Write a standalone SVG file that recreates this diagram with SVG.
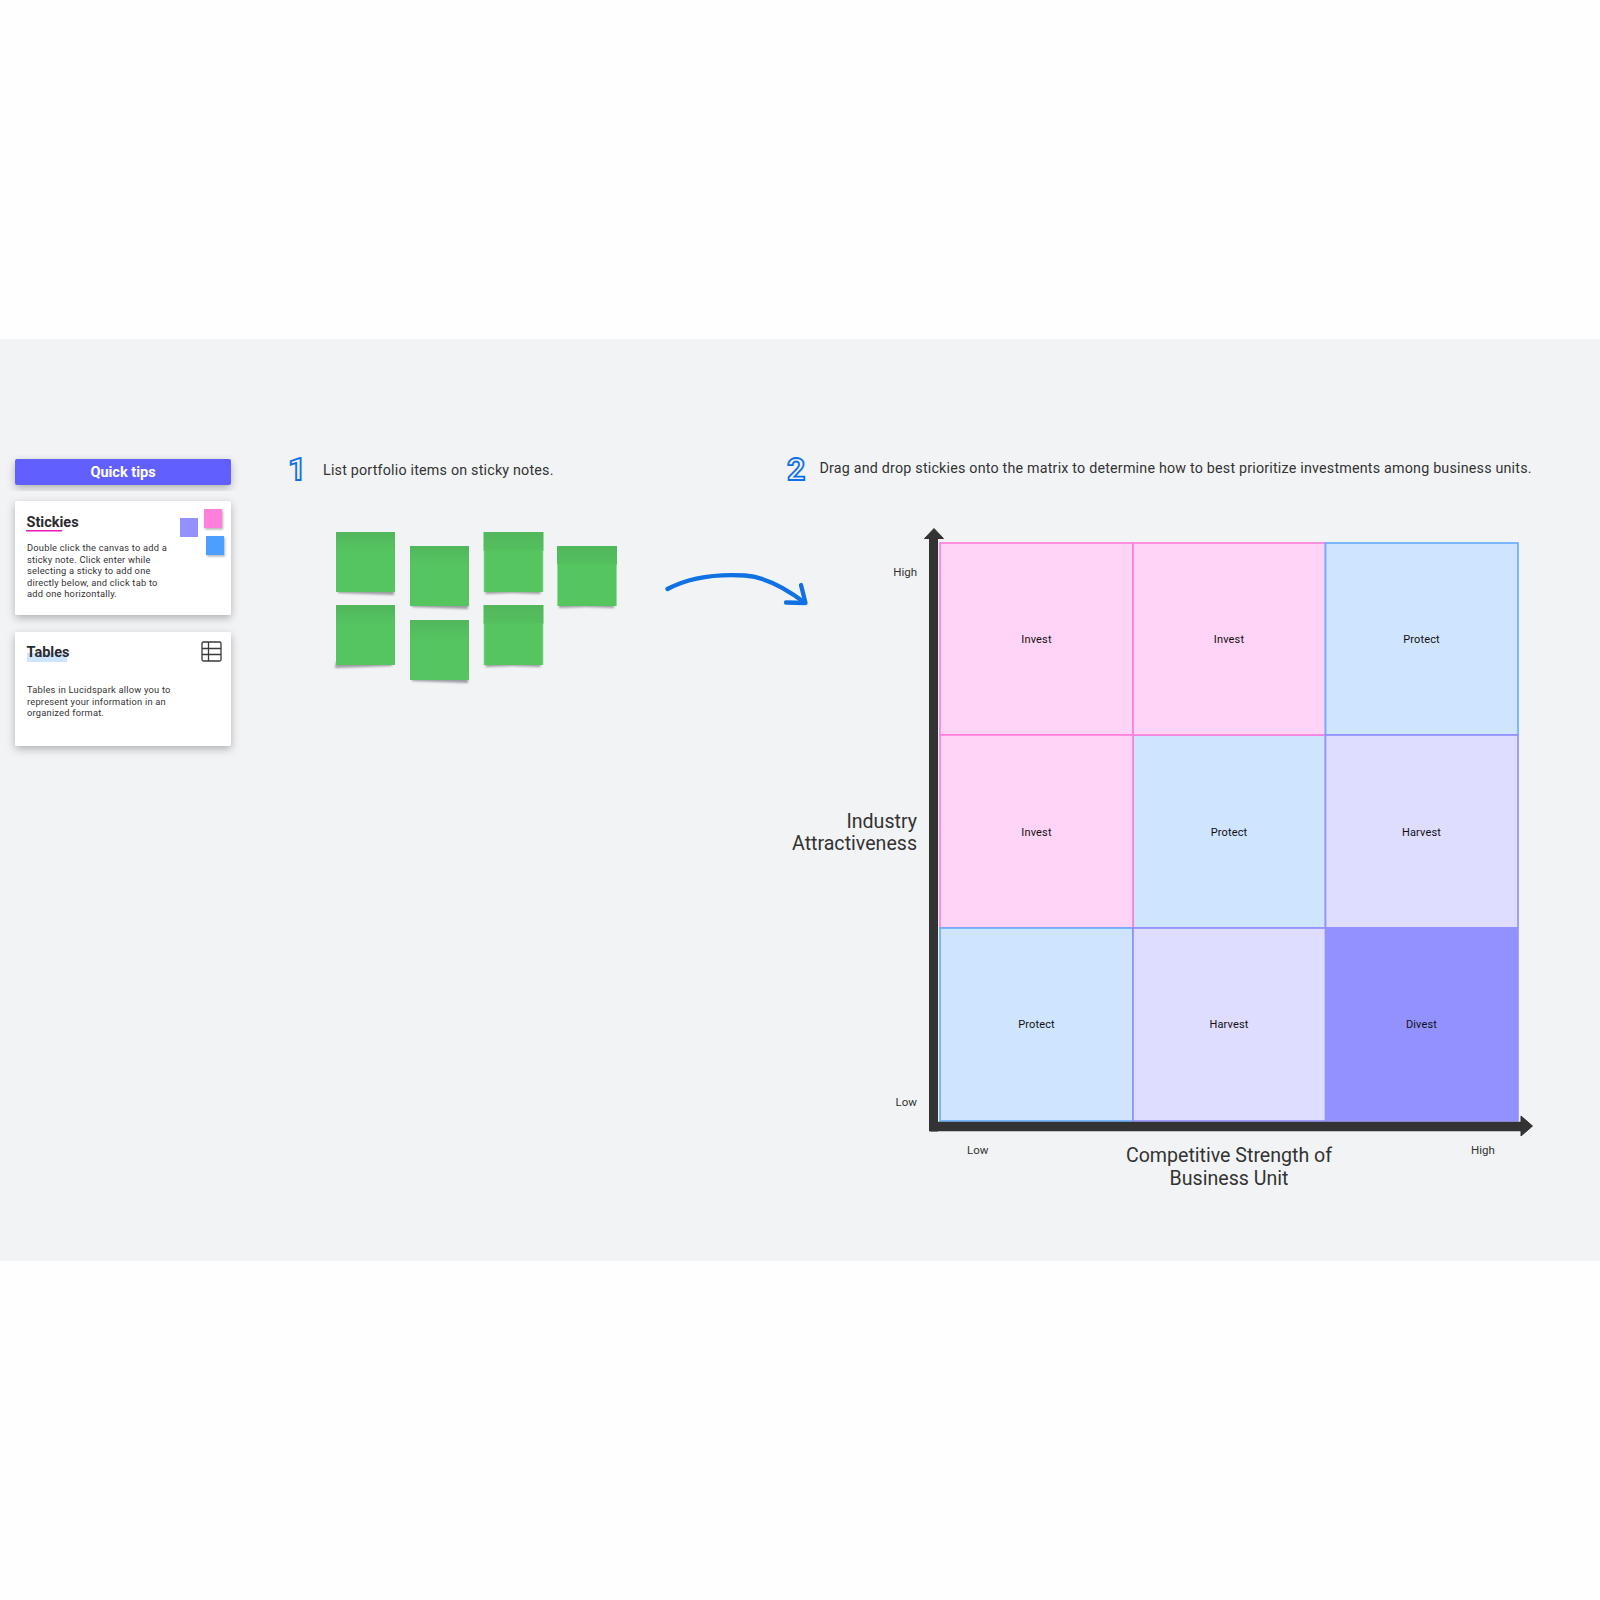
<svg xmlns="http://www.w3.org/2000/svg" width="1600" height="1600" viewBox="0 0 1600 1600">
<style>
text{font-family:Roboto,"Liberation Sans",sans-serif;fill:#2b2b2f}
.cell{font-size:11px;text-anchor:middle;fill:#111;letter-spacing:.15px}
.ax{font-size:11.5px;fill:#333}
.big{font-size:19.6px;text-anchor:middle;fill:#333}
.big2{font-size:19.6px;text-anchor:end;fill:#333}
.step{font-size:14.3px;fill:#333;letter-spacing:.195px}
.num{font-size:32px;font-weight:700;fill:#f2f3f5;stroke:#1071e5;stroke-width:1.8px}
.body{font-size:9.3px;fill:#333;letter-spacing:.22px}
.title{font-size:14.5px;font-weight:700}
.card{fill:#fff;filter:url(#sh)}
.pk{fill:#ffd4f6;stroke:#ff80dc;stroke-width:1.7}
.bl{fill:#cfe4ff;stroke:#69aefc;stroke-width:1.7}
.pu{fill:#dedcff;stroke:#9391ff;stroke-width:1.7}
.blpu{fill:#cfe4ff;stroke:#9391ff;stroke-width:1.7}
.shd{fill:#55555f;opacity:.55;filter:url(#blur)}
</style>
<defs>
<filter id="sh" x="-15%" y="-15%" width="130%" height="135%"><feDropShadow dx="0" dy="3" stdDeviation="4" flood-color="#000" flood-opacity=".28"/></filter>
<filter id="ss" x="-15%" y="-15%" width="130%" height="130%"><feDropShadow dx="1" dy="1.500" stdDeviation="1" flood-color="#000" flood-opacity=".3"/></filter>
<filter id="blur" x="-15%" y="-60%" width="130%" height="220%"><feGaussianBlur stdDeviation="1"/></filter>
<linearGradient id="band" x1="0" y1="0" x2="0" y2="1"><stop offset="0" stop-color="#51b75c"/><stop offset="1" stop-color="#55c560"/></linearGradient>
<linearGradient id="band2" x1="0" y1="0" x2="0" y2="1"><stop offset="0" stop-color="#51b75c"/><stop offset="1" stop-color="#54c05e"/></linearGradient>
<g id="face"><rect width="59" height="60" fill="#55c560"/><rect width="59" height="20" fill="url(#band)"/></g>
<g id="face2"><rect y="17" width="60" height="43" fill="#a9dfae"/><rect x=".8" y="17" width="58.400" height="43" fill="#55c560"/><rect width="60" height="18.500" fill="url(#band2)"/></g>
<g id="sticky-r"><path class="shd" d="M2 57H58L58 63L2 61Z"/><use href="#face"/></g>
<g id="sticky-l"><path class="shd" d="M0 57H56L56 61L-1 63Z"/><use href="#face"/></g>
<g id="sticky-m"><path class="shd" d="M2 57H57L57 62L29 61L2 62Z"/><use href="#face2"/></g>
</defs>
<rect width="1600" height="1600" fill="#fefefe"/>
<rect y="339" width="1600" height="922" fill="#f2f3f5"/>

<g id="quick-tips"><rect x="15" y="459" width="216" height="26" rx="2" fill="#625fff" filter="url(#sh)"/><text x="123" y="477" text-anchor="middle" style="font-size:14.5px;font-weight:700;fill:#fff">Quick tips</text></g>

<g id="card-stickies">
<rect class="card" x="15" y="501" width="216" height="114" rx="2"/>
<text class="title" x="26.500" y="526.500">Stickies</text>
<rect x="26" y="530" width="36" height="1.500" fill="#e81fb5"/>
<text class="body"><tspan x="27" y="551">Double click the canvas to add a</tspan><tspan x="27" y="562.500">sticky note. Click enter while</tspan><tspan x="27" y="574">selecting a sticky to add one</tspan><tspan x="27" y="585.500">directly below, and click tab to</tspan><tspan x="27" y="597">add one horizontally.</tspan></text>
<rect x="180" y="518" width="18" height="19" fill="#9391ff"/>
<rect x="204" y="509" width="18" height="19" fill="#ff80dc" filter="url(#ss)"/>
<rect x="206" y="536" width="18" height="19" fill="#4d9fff" filter="url(#ss)"/>
</g>

<g id="card-tables">
<rect class="card" x="15" y="632" width="216" height="114" rx="2"/>
<rect x="27" y="653" width="40" height="9" fill="#cfe4ff"/>
<text class="title" x="26.500" y="657">Tables</text>
<text class="body"><tspan x="27" y="693">Tables in Lucidspark allow you to</tspan><tspan x="27" y="705">represent your information in an</tspan><tspan x="27" y="716">organized format.</tspan></text>
<g fill="none" stroke="#3a3a3d" stroke-width="1.300"><rect x="202" y="642" width="19" height="19" rx="1.500"/><path d="M202 648.500H221M202 654.500H221M208.500 642V661"/></g>
</g>

<g id="step-1"><text class="num" x="288" y="480">1</text><text class="step" x="323" y="475">List portfolio items on sticky notes.</text></g>
<g id="step-2"><text class="num" x="787" y="480">2</text><text class="step" x="819.500" y="473">Drag and drop stickies onto the matrix to determine how to best prioritize investments among business units.</text></g>

<g id="sticky-1"><use href="#sticky-r" x="336" y="532"/></g>
<g id="sticky-2"><use href="#sticky-r" x="410" y="546"/></g>
<g id="sticky-3"><use href="#sticky-m" x="483.500" y="532"/></g>
<g id="sticky-4"><use href="#sticky-m" x="557" y="546"/></g>
<g id="sticky-5"><use href="#sticky-l" x="336" y="605"/></g>
<g id="sticky-6"><use href="#sticky-r" x="410" y="620"/></g>
<g id="sticky-7"><use href="#sticky-m" x="483.500" y="605"/></g>

<g id="matrix">
<g id="cell-5"><rect class="blpu" x="1133" y="735" width="192.500" height="193"/><text class="cell" x="1229" y="836">Protect</text></g>
<g id="cell-1"><rect class="pk" x="940" y="543" width="193" height="192"/><text class="cell" x="1036.500" y="643">Invest</text></g>
<g id="cell-2"><rect class="pk" x="1133" y="543" width="192.500" height="192"/><text class="cell" x="1229" y="643">Invest</text></g>
<g id="cell-4"><rect class="pk" x="940" y="735" width="193" height="193"/><text class="cell" x="1036.500" y="836">Invest</text></g>
<g id="cell-3"><rect class="bl" x="1325.500" y="543" width="192.500" height="192"/><text class="cell" x="1421.500" y="643">Protect</text></g>
<g id="cell-6"><rect class="pu" x="1325.500" y="735" width="192.500" height="193"/><text class="cell" x="1421.500" y="836">Harvest</text></g>
<g id="cell-7"><rect class="bl" x="940" y="928" width="193" height="193"/><text class="cell" x="1036.500" y="1028">Protect</text></g>
<g id="cell-8"><rect class="pu" x="1133" y="928" width="192.500" height="193"/><text class="cell" x="1229" y="1028">Harvest</text></g>
<g id="cell-9"><rect x="1325" y="927" width="193.800" height="194.800" fill="#9391ff"/><text class="cell" x="1421.500" y="1028">Divest</text></g>
</g>

<g id="connectors">
<path d="M933.500 1126.500V535" fill="none" stroke="#333" stroke-width="9"/>
<path d="M934 528.500L943.500 538.500H924.500Z" fill="#333" stroke="#333" stroke-linejoin="round"/>
<path d="M929 1126.500H1522" fill="none" stroke="#333" stroke-width="9.500" stroke-linejoin="round"/>
<path d="M929 1127H938V1131.500H931Q929 1131.500 929 1129.500Z" fill="#333"/>
<path d="M1532.500 1126L1521 1136V1116Z" fill="#333" stroke="#333" stroke-linejoin="round"/>
<path d="M667.500 589C690 577 720 574 745 575.500C767 577 788 590 804.500 602.500" fill="none" stroke="#1071e5" stroke-width="4.300" stroke-linecap="round"/>
<path d="M801 585L805.500 603L786 602.500" fill="none" stroke="#1071e5" stroke-width="4.300" stroke-linecap="round" stroke-linejoin="round"/>
</g>

<g id="axis-labels">
<text class="ax" x="917" y="576" text-anchor="end">High</text>
<text class="ax" x="917" y="1106" text-anchor="end">Low</text>
<text class="ax" x="967" y="1154">Low</text>
<text class="ax" x="1471" y="1154">High</text>
<text class="big2"><tspan x="917" y="828">Industry</tspan><tspan x="917" y="850">Attractiveness</tspan></text>
<text class="big"><tspan x="1229" y="1162">Competitive Strength of</tspan><tspan x="1229" y="1185">Business Unit</tspan></text>
</g>
</svg>
